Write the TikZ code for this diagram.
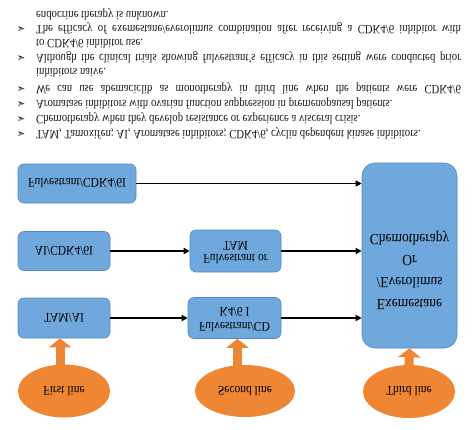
\documentclass[tikz,border=0pt]{standalone}
\usepackage{fontspec}
\setmainfont{Liberation Serif}
\newfontfamily\dejavu{DejaVu Sans}
\usepackage{graphicx}
\usetikzlibrary{arrows.meta,shapes.geometric}
\definecolor{boxblue}{RGB}{111,168,221}
\definecolor{boxedge}{RGB}{84,134,192}
\definecolor{orng}{RGB}{238,134,52}
\definecolor{txt}{RGB}{25,25,25}
\newcommand{\flipv}[1]{\scalebox{1}[-1.15]{#1}}
\newcommand{\flipb}[1]{\scalebox{0.95}[-1.12]{#1}}
\begin{document}
\begin{tikzpicture}[x=1pt,y=-1pt,
  bluebox/.style={draw=boxedge, line width=0.6pt, fill=boxblue, rounded corners=6pt, inner sep=0pt, align=center, font=\fontsize{11.5}{13}\selectfont},
  oval/.style={ellipse, fill=orng, inner sep=0pt, font=\fontsize{11.5}{13}\selectfont},
  flow/.style={line width=1.6pt, -{Triangle[length=6pt,width=6pt]}},
  block/.style={draw=orng, line width=9pt, -{Triangle[length=9pt,width=22pt]}},
  bodytext/.style={anchor=west, inner sep=0pt, text=txt, font=\fontsize{11.3}{12}\selectfont},
  bulletmark/.style={inner sep=0pt, text=txt, font=\dejavu\fontsize{10}{11}\selectfont}]
\useasboundingbox (0,0) rectangle (474,429);
\fill[white] (0,0) rectangle (474,429);

% text lines (vertically mirrored)
\node[bodytext] (t1) at (36,15) {\flipb{endocrine therapy is unknown.}};
\node[bodytext] (t2) at (36,29) {\flipb{\makebox[447pt][s]{The efficacy of exemestane/everolimus combination after receiving a CDK4/6 inhibitor with}}};
\node[bodytext] (t3) at (36,44) {\flipb{to CDK4/6 inhibitor use.}};
\node[bodytext] (t4) at (36,58) {\flipb{\makebox[447pt][s]{Although the clinical trials showing fulvestrant's efficacy in this setting were conducted prior}}};
\node[bodytext] (t5) at (36,73) {\flipb{inhibitors naive.}};
\node[bodytext] (t6) at (36,89) {\flipb{\makebox[447pt][s]{We can use abemaciclib as monotherapy in third line when the patients were CDK4/6}}};
\node[bodytext] (t7) at (36,104) {\flipb{Aromatase inhibitors with ovarian function suppression in premenopausal patients.}};
\node[bodytext] (t8) at (36,119) {\flipb{Chemotherapy when they develop resistance or experience a visceral crisis.}};
\node[bodytext] (t9) at (36,134) {\flipb{TAM, Tamoxifen; AI, Aromatase inhibitors; CDK4/6, cyclin dependent kinase inhibitors.}};

\foreach \yy/\nn in {29/b2,58/b4,89/b6,104/b7,119/b8,134/b9}
  \node[bulletmark] (\nn) at (21,\yy) {\flipv{➢}};

% boxes
\node[bluebox, minimum width=118pt, minimum height=39pt] (fc) at (77,183.5) {\flipv{Fulvestrant/CDK4/6I}};
\node[bluebox, minimum width=92pt, minimum height=39pt] (ai) at (64,251) {\flipv{AI/CDK4/6I}};
\node[bluebox, minimum width=92pt, minimum height=40pt] (ta) at (64,318) {\flipv{TAM/AI}};
\node[bluebox, minimum width=91pt, minimum height=42pt] (ft) at (235.5,251) {\flipv{\begin{tabular}{@{}c@{}}Fulvestrant or\\[-2pt] TAM\end{tabular}}};
\node[bluebox, minimum width=93pt, minimum height=41pt] (fcd) at (234.5,318) {\flipv{\begin{tabular}{@{}c@{}}Fulvestrant/CD\\ K4/6 I\end{tabular}}};
\node[bluebox, rounded corners=13pt, minimum width=95pt, minimum height=185pt] (big) at (409.5,255.5) {};
\node[inner sep=0pt, font=\fontsize{13.5}{16}\selectfont] (bigtxt) at (409.5,270.5) {\flipv{\begin{tabular}{@{}c@{}}Exemestane\\[3pt] /Everolimus\\[3pt] Or\\[3pt] Chemotherapy\end{tabular}}};

% ellipses
\node[oval, minimum width=92pt, minimum height=53pt] (e1) at (64,391) {\flipv{First line}};
\node[oval, minimum width=100pt, minimum height=52pt] (e2) at (245,391) {\flipv{Second line}};
\node[oval, minimum width=92pt, minimum height=53pt] (e3) at (409,391.5) {\flipv{Third line}};

% orange block arrows
\draw[block] ([xshift=-4pt,yshift=-3pt]e1.north) -- ([xshift=-4pt]ta.south);
\draw[block] ([xshift=-7.5pt,yshift=-3pt]e2.north) -- ([xshift=3pt]fcd.south);
\draw[block] ([yshift=-3pt]e3.north) -- (big.south);

% flow arrows
\draw[flow] (fc.east) -- (fc.east -| big.west);
\draw[flow] (ai.east) -- (ft.west);
\draw[flow] (ft.east) -- (ft.east -| big.west);
\draw[flow] (ta.east) -- (fcd.west);
\draw[flow] (fcd.east) -- (fcd.east -| big.west);
\end{tikzpicture}
\end{document}
